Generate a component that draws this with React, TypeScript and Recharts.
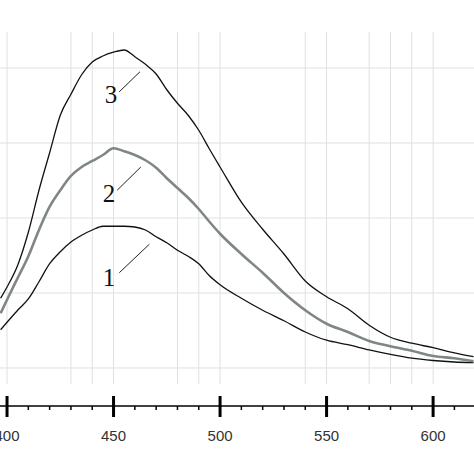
import React from 'react';
import { LineChart, Line, XAxis, YAxis, ReferenceLine, ReferenceDot } from 'recharts';

// wavelength, nm
const wavelengths = [
  397, 400, 405, 410, 415, 420, 425, 430, 435, 440, 445, 450, 455, 460, 465, 470,
  475, 480, 485, 490, 495, 500, 510, 520, 530, 540, 550, 560, 570, 580, 590, 600, 610, 619,
];

// intensity, arbitrary units (one grid step = 1)
const curve1 = [
  0.51, 0.61, 0.77, 0.92, 1.15, 1.39, 1.55, 1.68, 1.77, 1.84, 1.89, 1.89, 1.89, 1.88, 1.84, 1.75,
  1.67, 1.57, 1.49, 1.39, 1.23, 1.11, 0.93, 0.77, 0.63, 0.48, 0.37, 0.31, 0.24, 0.18, 0.13, 0.1, 0.08, 0.07,
];
const curve2 = [
  0.73, 0.91, 1.2, 1.49, 1.84, 2.15, 2.37, 2.56, 2.68, 2.76, 2.84, 2.93, 2.89, 2.84, 2.77, 2.67,
  2.53, 2.4, 2.27, 2.12, 1.95, 1.79, 1.52, 1.27, 1.0, 0.77, 0.59, 0.48, 0.36, 0.29, 0.23, 0.16, 0.13, 0.09,
];
const curve3 = [
  0.93, 1.08, 1.37, 1.81, 2.37, 2.87, 3.37, 3.65, 3.91, 4.08, 4.16, 4.21, 4.24, 4.15, 4.05, 3.92,
  3.71, 3.53, 3.37, 3.17, 2.92, 2.68, 2.21, 1.85, 1.52, 1.16, 0.95, 0.79, 0.57, 0.41, 0.33, 0.27, 0.2, 0.15,
];

const xTicks = [400, 410, 420, 430, 440, 450, 460, 470, 480, 490, 500, 510, 520, 530, 540, 550, 560, 570, 580, 590, 600, 610];
const vGrid = [400, 430, 440, 450, 480, 490, 500, 540, 550, 570, 580, 590, 600];
const hGrid = [0, 1, 2, 3, 4];

// curve labels: text position and leader line ends
const labelNames = ['1', '2', '3'];
const labelX = [447.9, 447.9, 448.8];
const labelY = [1.21, 2.33, 3.65];
const leaderFrom = [[452.7, 1.27], [451.7, 2.37], [452.6, 3.68]];
const leaderTo = [[466.8, 1.65], [462.8, 2.68], [462.4, 3.95]];

const X_DOMAIN: [number, number] = [396.7, 619.2];
const Y_DOMAIN: [number, number] = [-0.507, 4.48];
const GRID_BOTTOM = -0.213;

const data = wavelengths.map((wl, i) => ({
  wl,
  c1: curve1[i],
  c2: curve2[i],
  c3: curve3[i],
}));

const AxisTick = (props: any) => {
  const { x, y, payload } = props;
  const major = payload.value % 50 === 0;
  if (!major) {
    return <line x1={x} x2={x} y1={y} y2={y + 4} stroke="#000" strokeWidth={1.5} />;
  }
  return (
    <g>
      <line x1={x} x2={x} y1={y - 10} y2={y + 11} stroke="#000" strokeWidth={3} />
      <text
        x={x}
        y={y + 35}
        textAnchor="middle"
        fontFamily="'Liberation Sans', Arial, sans-serif"
        fontSize={15}
        fill="#333"
      >
        {payload.value}
      </text>
    </g>
  );
};

export default function App() {
  return (
    <div style={{ position: 'absolute', left: 0, top: 0, width: 474, height: 474, background: '#fff' }}>
      <LineChart width={474} height={474} data={data} margin={{ top: 32, right: 0, left: 0, bottom: 0 }}>
        <XAxis
          dataKey="wl"
          type="number"
          domain={X_DOMAIN}
          allowDataOverflow
          ticks={xTicks}
          interval={0}
          tick={<AxisTick />}
          tickLine={false}
          tickSize={0}
          tickMargin={0}
          axisLine={{ stroke: '#000', strokeWidth: 1.5 }}
          height={68}
        />
        <YAxis hide type="number" domain={Y_DOMAIN} allowDataOverflow />
        {hGrid.map((v) => (
          <ReferenceLine key={`h-${v}`} y={v} stroke="#e0e0e0" strokeWidth={1} />
        ))}
        {vGrid.map((v) => (
          <ReferenceLine
            key={`v-${v}`}
            segment={[{ x: v, y: GRID_BOTTOM }, { x: v, y: Y_DOMAIN[1] }]}
            stroke="#e0e0e0"
            strokeWidth={1}
          />
        ))}
        <Line type="monotone" dataKey="c1" stroke="#111" strokeWidth={1.3} dot={false} isAnimationActive={false} />
        <Line type="monotone" dataKey="c2" stroke="#7f8786" strokeWidth={2.6} dot={false} isAnimationActive={false} />
        <Line type="monotone" dataKey="c3" stroke="#111" strokeWidth={1.3} dot={false} isAnimationActive={false} />
        {labelNames.map((name, i) => (
          <ReferenceLine
            key={`l-${name}`}
            segment={[
              { x: leaderFrom[i][0], y: leaderFrom[i][1] },
              { x: leaderTo[i][0], y: leaderTo[i][1] },
            ]}
            stroke="#222"
            strokeWidth={1}
          />
        ))}
        {labelNames.map((name, i) => (
          <ReferenceDot
            key={`t-${name}`}
            x={labelX[i]}
            y={labelY[i]}
            r={0}
            shape={(p: any) => (
              <text
                x={p.cx}
                y={p.cy}
                textAnchor="middle"
                dominantBaseline="central"
                fontFamily="'Liberation Serif', 'Times New Roman', serif"
                fontSize={25}
                fill="#111"
              >
                {name}
              </text>
            )}
          />
        ))}
      </LineChart>
    </div>
  );
}
